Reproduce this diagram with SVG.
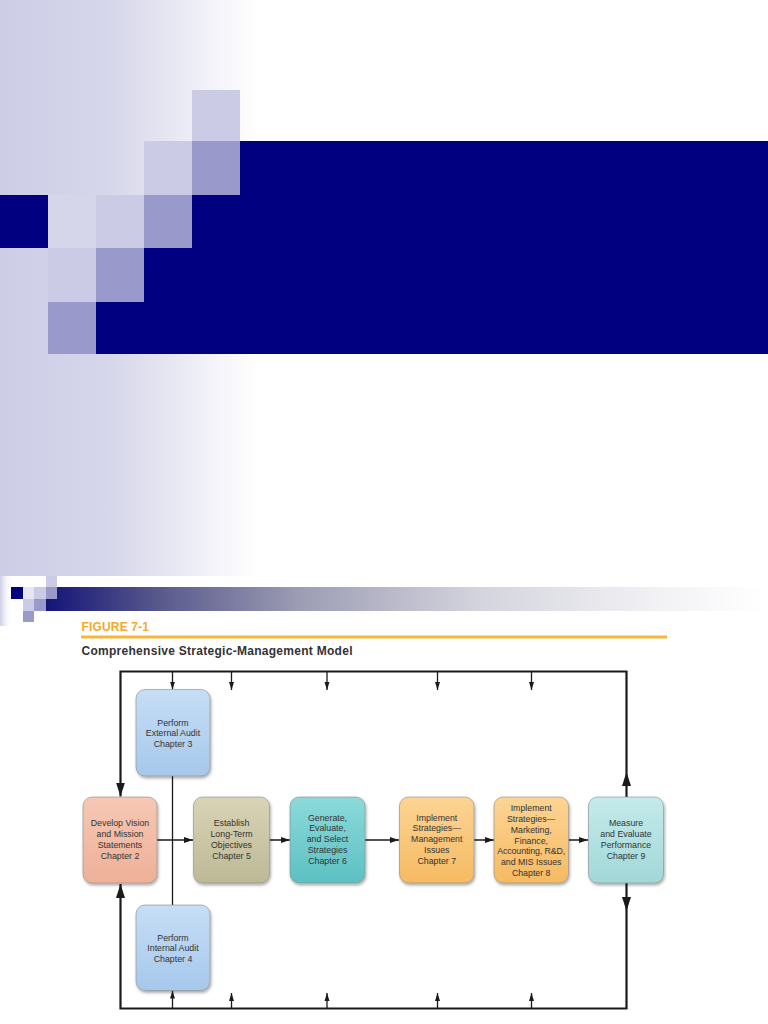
<svg xmlns="http://www.w3.org/2000/svg" width="768" height="1024" viewBox="0 0 768 1024">
<defs>
<linearGradient id="bgFade" x1="0" y1="0" x2="1" y2="0">
<stop offset="0" stop-color="#cdcde6"/>
<stop offset="0.4" stop-color="#d5d5eb"/>
<stop offset="0.6" stop-color="#e2e2f0"/>
<stop offset="0.8" stop-color="#f1f1f8"/>
<stop offset="1" stop-color="#ffffff"/>
</linearGradient>
<linearGradient id="edgeFade" x1="0" y1="0" x2="1" y2="0">
<stop offset="0" stop-color="#cdcde6"/>
<stop offset="1" stop-color="#ffffff" stop-opacity="0"/>
</linearGradient>
<linearGradient id="barFade" x1="0" y1="0" x2="1" y2="0">
<stop offset="0" stop-color="#141478"/>
<stop offset="0.15" stop-color="#56568c"/>
<stop offset="0.35" stop-color="#9c9cb4"/>
<stop offset="0.6" stop-color="#d4d4de"/>
<stop offset="0.85" stop-color="#f2f2f5"/>
<stop offset="1" stop-color="#ffffff"/>
</linearGradient>
<linearGradient id="gBlue" x1="0" y1="0" x2="0" y2="1">
<stop offset="0" stop-color="#c6def5"/><stop offset="1" stop-color="#a6c8ec"/>
</linearGradient>
<linearGradient id="gSalmon" x1="0" y1="0" x2="0" y2="1">
<stop offset="0" stop-color="#f6c8b4"/><stop offset="1" stop-color="#eeb098"/>
</linearGradient>
<linearGradient id="gKhaki" x1="0" y1="0" x2="0" y2="1">
<stop offset="0" stop-color="#d8d4b6"/><stop offset="1" stop-color="#bdb896"/>
</linearGradient>
<linearGradient id="gTeal" x1="0" y1="0" x2="0" y2="1">
<stop offset="0" stop-color="#8cdada"/><stop offset="1" stop-color="#5cc0c2"/>
</linearGradient>
<linearGradient id="gOrange" x1="0" y1="0" x2="0" y2="1">
<stop offset="0" stop-color="#fcd494"/><stop offset="1" stop-color="#f6ba62"/>
</linearGradient>
<linearGradient id="gAqua" x1="0" y1="0" x2="0" y2="1">
<stop offset="0" stop-color="#c4eaea"/><stop offset="1" stop-color="#a2d8d8"/>
</linearGradient>
<filter id="shadow" x="-20%" y="-20%" width="150%" height="150%">
<feDropShadow dx="1" dy="2" stdDeviation="1.5" flood-color="#000" flood-opacity="0.35"/>
</filter>
<marker id="big" markerUnits="userSpaceOnUse" markerWidth="14" markerHeight="9" refX="14" refY="4.5" orient="auto">
<path d="M0,0 L14,4.5 L0,9 z" fill="#1a1a1a"/>
</marker>
<marker id="mid" markerUnits="userSpaceOnUse" markerWidth="9" markerHeight="6" refX="9" refY="3" orient="auto">
<path d="M0,0 L9,3 L0,6 z" fill="#1a1a1a"/>
</marker>
<marker id="small" markerUnits="userSpaceOnUse" markerWidth="8" markerHeight="6" refX="8" refY="3" orient="auto">
<path d="M0,0.5 L8,3 L0,5.5 z" fill="#1a1a1a"/>
</marker>
<style>
.lt{fill:#cbcbe6}
.md{fill:#9999cc}
.nv{fill:#000080}
.box{stroke:#8c8c8c;stroke-width:0.6;filter:url(#shadow)}
.bt{font-family:"Liberation Sans",Arial,sans-serif;font-size:8.8px;fill:#333333;text-anchor:middle}
.loop{fill:none;stroke:#1a1a1a;stroke-width:2.2}
.thin{fill:none;stroke:#1a1a1a;stroke-width:1.3}
.hz{fill:none;stroke:#1a1a1a;stroke-width:1.5}
</style>
</defs>

<rect width="768" height="1024" fill="#ffffff"/>

<g id="top-decoration">
<rect x="0" y="0" width="258" height="576" fill="url(#bgFade)"/>
<rect x="192" y="90" width="48" height="51" class="lt"/>
<rect x="144" y="141" width="48" height="54" class="lt"/>
<rect x="192" y="141" width="48" height="54" class="md"/>
<rect x="0" y="195" width="48" height="53" class="nv"/>
<rect x="48" y="195" width="48" height="53" fill="#d6d6eb"/>
<rect x="96" y="195" width="48" height="53" class="lt"/>
<rect x="144" y="195" width="48" height="53" class="md"/>
<rect x="48" y="248" width="48" height="54" class="lt"/>
<rect x="96" y="248" width="48" height="54" class="md"/>
<rect x="48" y="302" width="48" height="52" class="md"/>
<path d="M240,141 H768 V354 H96 V302 H144 V248 H192 V195 H240 Z" class="nv"/>
</g>

<g id="bottom-decoration">
<rect x="0" y="576" width="12" height="50" fill="url(#edgeFade)"/>
<rect x="46" y="587" width="722" height="24" fill="url(#barFade)"/>
<rect x="46" y="576" width="11" height="11" class="lt"/>
<rect x="11" y="587" width="12" height="12" class="nv"/>
<rect x="23" y="587" width="11" height="12" fill="#e6e6f2"/>
<rect x="34" y="587" width="12" height="12" class="lt"/>
<rect x="46" y="587" width="11" height="12" class="md"/>
<rect x="23" y="599" width="11" height="12" class="lt"/>
<rect x="34" y="599" width="12" height="12" class="md"/>
<rect x="23" y="611" width="11" height="11" class="md"/>
</g>

<g id="figure-title">
<text x="81.5" y="630.7" font-family="'Liberation Sans',Arial,sans-serif" font-size="12" font-weight="bold" fill="#f5a82c" textLength="67.5">FIGURE 7-1</text>
<rect x="81" y="635.5" width="586" height="3" fill="#f7b53a"/>
<text x="81.5" y="655" font-family="'Liberation Sans',Arial,sans-serif" font-size="12" font-weight="bold" fill="#333333" textLength="271">Comprehensive Strategic-Management Model</text>
</g>

<g id="connectors">
<path class="loop" d="M626.5,797 V772" marker-end="url(#big)"/>
<path class="loop" d="M626.5,772 V671.5 H120.5 V796.5" marker-end="url(#big)"/>
<path class="loop" d="M626.5,883 V911" marker-end="url(#big)"/>
<path class="loop" d="M626.5,911 V1008.5 H120.5 V884" marker-end="url(#big)"/>
<path class="thin" d="M172.5,671.5 V689.5" marker-end="url(#small)"/>
<path class="thin" d="M231.5,671.5 V690" marker-end="url(#small)"/>
<path class="thin" d="M327,671.5 V690" marker-end="url(#small)"/>
<path class="thin" d="M437.5,671.5 V690" marker-end="url(#small)"/>
<path class="thin" d="M531.5,671.5 V690" marker-end="url(#small)"/>
<path class="thin" d="M172.5,1008.5 V990.5" marker-end="url(#small)"/>
<path class="thin" d="M231.5,1008.5 V993" marker-end="url(#small)"/>
<path class="thin" d="M327,1008.5 V993" marker-end="url(#small)"/>
<path class="thin" d="M437.5,1008.5 V993" marker-end="url(#small)"/>
<path class="thin" d="M531.5,1008.5 V993" marker-end="url(#small)"/>
<path class="thin" d="M172.5,776 V905"/>
<path class="hz" d="M157,840 H193" marker-end="url(#mid)"/>
<path class="hz" d="M269.5,840 H290" marker-end="url(#mid)"/>
<path class="hz" d="M365,840 H399" marker-end="url(#mid)"/>
<path class="hz" d="M474,840 H494" marker-end="url(#mid)"/>
<path class="hz" d="M568.5,840 H588" marker-end="url(#mid)"/>
</g>

<g id="external-audit">
<rect class="box" x="136" y="689.5" width="74" height="86.5" rx="9" fill="url(#gBlue)"/>
<text class="bt" x="173" y="725.6">Perform</text>
<text class="bt" x="173" y="736.3">External Audit</text>
<text class="bt" x="173" y="747">Chapter 3</text>
</g>

<g id="develop-vision">
<rect class="box" x="83" y="797" width="74" height="86" rx="9" fill="url(#gSalmon)"/>
<text class="bt" x="120" y="826.4">Develop Vision</text>
<text class="bt" x="120" y="837.1">and Mission</text>
<text class="bt" x="120" y="847.8">Statements</text>
<text class="bt" x="120" y="858.5">Chapter 2</text>
</g>

<g id="establish-objectives">
<rect class="box" x="193.5" y="797" width="76" height="86" rx="9" fill="url(#gKhaki)"/>
<text class="bt" x="231.5" y="826.4">Establish</text>
<text class="bt" x="231.5" y="837.1">Long-Term</text>
<text class="bt" x="231.5" y="847.8">Objectives</text>
<text class="bt" x="231.5" y="858.5">Chapter 5</text>
</g>

<g id="generate-strategies">
<rect class="box" x="290" y="797" width="75" height="86" rx="9" fill="url(#gTeal)"/>
<text class="bt" x="327.5" y="820.7">Generate,</text>
<text class="bt" x="327.5" y="831.4">Evaluate,</text>
<text class="bt" x="327.5" y="842.1">and Select</text>
<text class="bt" x="327.5" y="852.8">Strategies</text>
<text class="bt" x="327.5" y="863.5">Chapter 6</text>
</g>

<g id="implement-management">
<rect class="box" x="399.5" y="797" width="74.5" height="86" rx="9" fill="url(#gOrange)"/>
<text class="bt" x="436.8" y="820.7">Implement</text>
<text class="bt" x="436.8" y="831.4">Strategies—</text>
<text class="bt" x="436.8" y="842.1">Management</text>
<text class="bt" x="436.8" y="852.8">Issues</text>
<text class="bt" x="436.8" y="863.5">Chapter 7</text>
</g>

<g id="implement-marketing">
<rect class="box" x="494" y="797" width="74.5" height="86" rx="9" fill="url(#gOrange)"/>
<text class="bt" x="531.2" y="811.4">Implement</text>
<text class="bt" x="531.2" y="822.1">Strategies—</text>
<text class="bt" x="531.2" y="832.8">Marketing,</text>
<text class="bt" x="531.2" y="843.5">Finance,</text>
<text class="bt" x="531.2" y="854.2" textLength="68">Accounting, R&amp;D,</text>
<text class="bt" x="531.2" y="864.9">and MIS Issues</text>
<text class="bt" x="531.2" y="875.6">Chapter 8</text>
</g>

<g id="measure-performance">
<rect class="box" x="588.5" y="797" width="75" height="86" rx="9" fill="url(#gAqua)"/>
<text class="bt" x="626" y="826.4">Measure</text>
<text class="bt" x="626" y="837.1">and Evaluate</text>
<text class="bt" x="626" y="847.8">Performance</text>
<text class="bt" x="626" y="858.5">Chapter 9</text>
</g>

<g id="internal-audit">
<rect class="box" x="136" y="905" width="74" height="85.5" rx="9" fill="url(#gBlue)"/>
<text class="bt" x="173" y="940.6">Perform</text>
<text class="bt" x="173" y="951.3">Internal Audit</text>
<text class="bt" x="173" y="962">Chapter 4</text>
</g>
</svg>
